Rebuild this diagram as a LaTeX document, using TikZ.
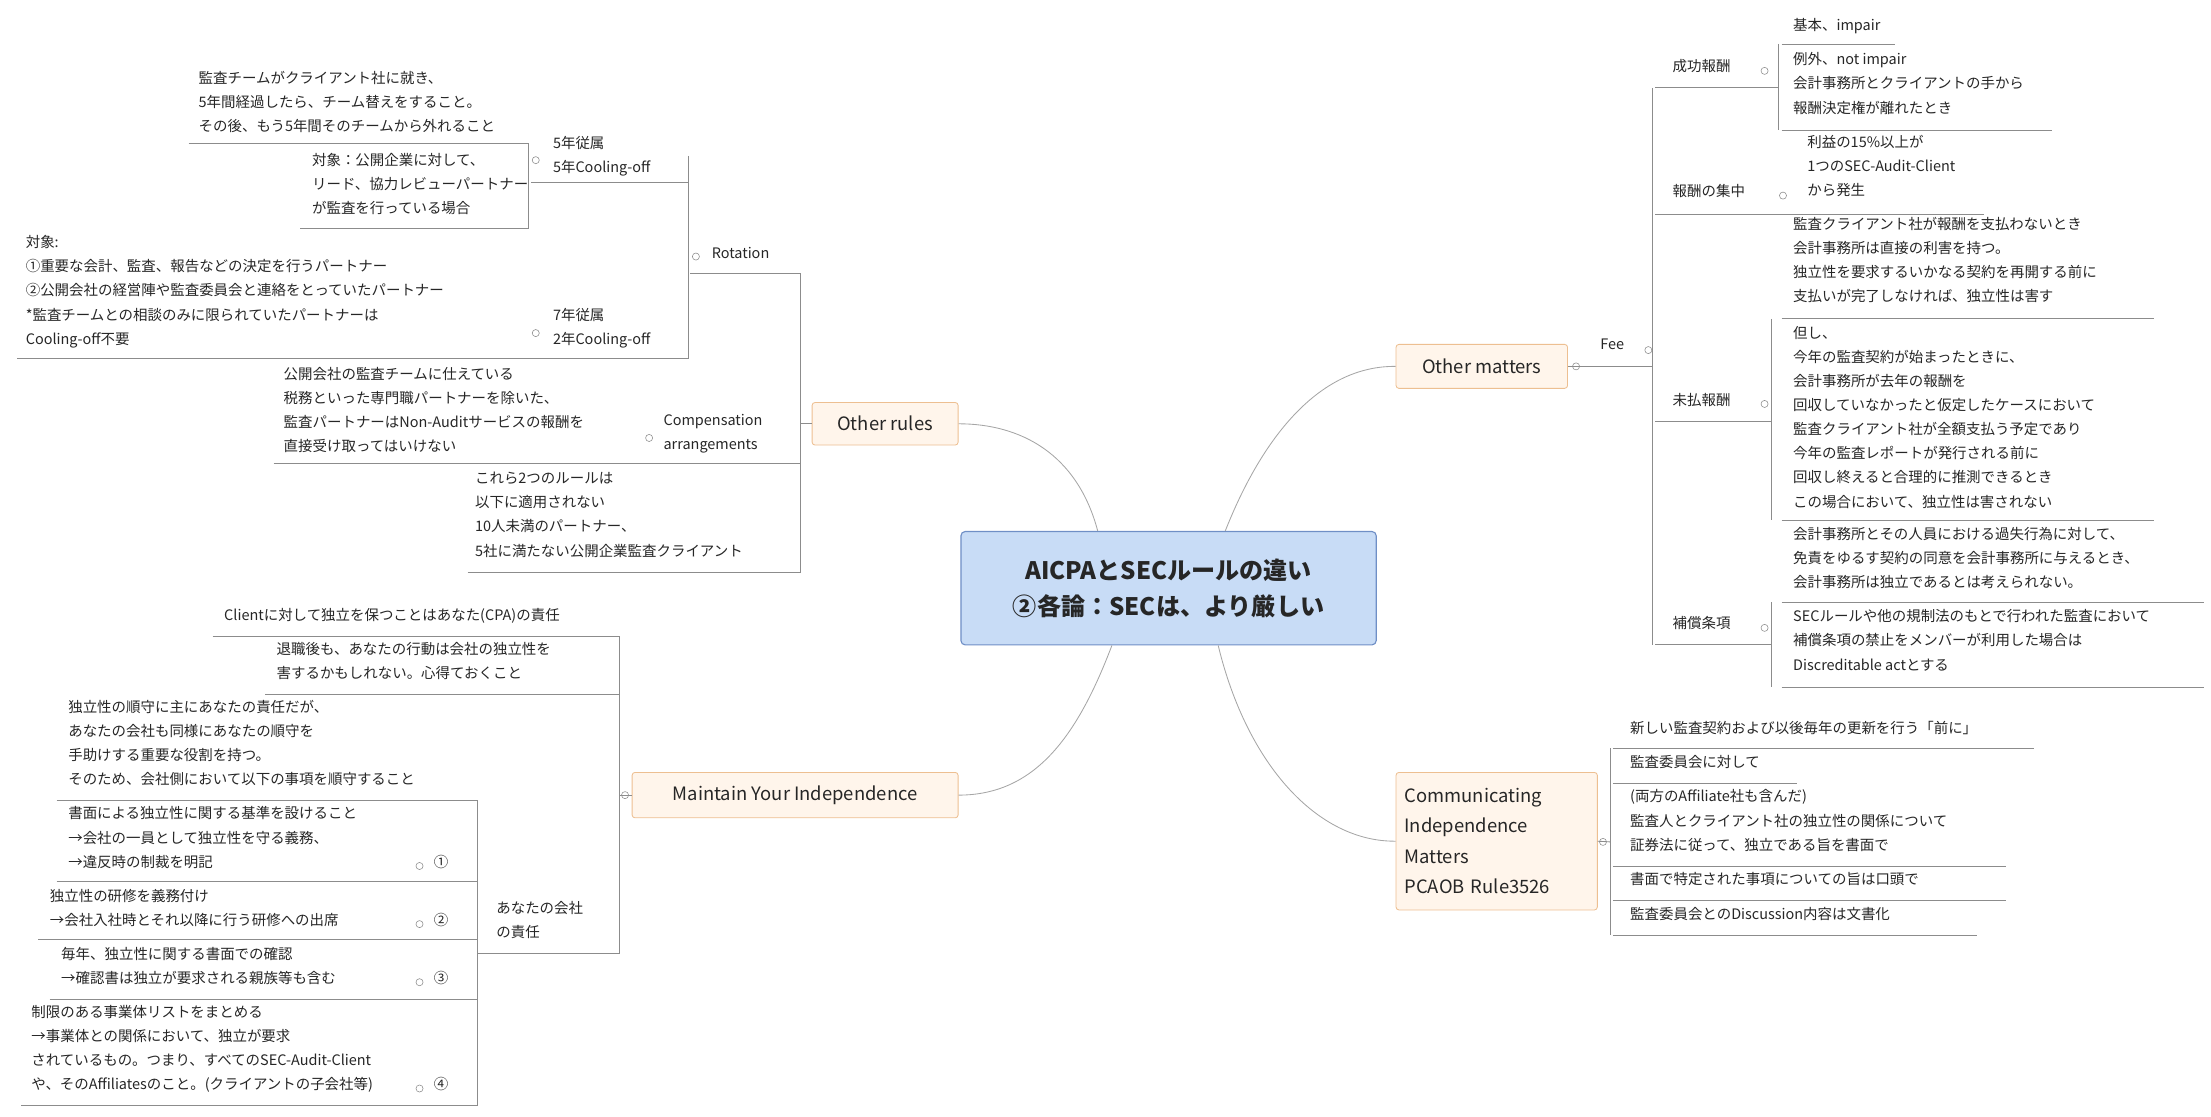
\documentclass[tikz,border=0pt]{standalone}
\usepackage{fontspec}
\setmainfont{Noto Sans CJK JP}
\definecolor{cfill}{HTML}{C8DCF6}
\definecolor{cdraw}{HTML}{6F8FC6}
\begin{document}
\begin{tikzpicture}[x=1pt,y=-1pt,
  txt/.style={anchor=north west,inner sep=0pt,align=left,font=\fontsize{10.2}{17}\selectfont,text=black!85},
  ln/.style={draw=black!45,line width=0.6pt},
  br/.style={draw=black!35,line width=0.6pt},
  main/.style={draw=orange!45!brown!50,fill=orange!8,rounded corners=2pt,line width=0.6pt,font=\fontsize{13}{21.5}\selectfont,inner sep=0pt,text=black!85,align=left},
  mk/.style={circle,draw=black!45,inner sep=0pt,minimum size=5pt,line width=0.4pt}]
\useasboundingbox (0,0) rectangle (1560,788);
% central
\node[draw=cdraw,fill=cfill,rounded corners=3pt,line width=0.8pt,minimum width=293pt,minimum height=80pt,font=\fontsize{17}{25}\selectfont\bfseries,align=center,text=black!85] (c) at (824.5,415) {AICPAとSECルールの違い\\②各論：SECは、より厳しい};
% main branches
\node[main,minimum width=103pt,minimum height=30pt] (or) at (624.5,299) {Other rules};
\node[main,minimum width=230pt,minimum height=32pt] (mi) at (561,561) {Maintain Your Independence};
\node[main,minimum width=121pt,minimum height=31pt] (om) at (1045.5,258.5) {Other matters};
\node[main,minimum width=142pt,minimum height=97pt,text width=130pt] (cm) at (1056,593.5) {Communicating\\Independence\\Matters\\PCAOB Rule3526};
\draw[br] (c.north) ++(-50,0) coordinate (c1) .. controls (760,320) and (720,299) .. (or.east);
\draw[br] (c.north) ++(40,0) coordinate (c2) .. controls (890,310) and (930,258) .. (om.west);
\draw[br] (c.south) ++(-40,0) coordinate (c3) .. controls (760,520) and (730,561) .. (mi.east);
\draw[br] (c.south) ++(35,0) coordinate (c4) .. controls (880,540) and (930,594) .. (cm.west);
% ===== Other rules
\draw[ln] (565,193) -- (565,404); \draw[ln] (565,299) -- (or.west);
\node[txt] (rot) at (502,174) {Rotation};
\draw[ln] (487,193) -- (565,193); \draw[ln] (486,110) -- (486,253);
\node[mk] at (491,181) {};
\node[txt] (r5) at (390,96) {5年従属\\5年Cooling-off};
\draw[ln] (375,129) -- (486,129); \draw[ln] (373,101) -- (373,161);
\node[mk] at (378,113) {};
\node[txt] (r5a) at (140,50) {監査チームがクライアント社に就き、\\5年間経過したら、チーム替えをすること。\\その後、もう5年間そのチームから外れること};
\draw[ln] (133,101) -- (373,101);
\node[txt] (r5b) at (220,108) {対象：公開企業に対して、\\リード、協力レビューパートナー\\が監査を行っている場合};
\draw[ln] (212,161) -- (373,161);
\node[txt] (r7) at (390,217) {7年従属\\2年Cooling-off};
\draw[ln] (12,253) -- (486,253);
\node[mk] at (378,235) {};
\node[txt] (r7a) at (18,166) {対象:\\①重要な会計、監査、報告などの決定を行うパートナー\\②公開会社の経営陣や監査委員会と連絡をとっていたパートナー\\*監査チームとの相談のみに限られていたパートナーは\\Cooling-off不要};
\node[txt] (ca) at (468,292) {Compensation\\arrangements};
\draw[ln] (193,327) -- (565,327);
\node[mk] at (458,309) {};
\node[txt] (caa) at (200,259) {公開会社の監査チームに仕えている\\税務といった専門職パートナーを除いた、\\監査パートナーはNon-Auditサービスの報酬を\\直接受け取ってはいけない};
\node[txt] (ex) at (335,333) {これら2つのルールは\\以下に適用されない\\10人未満のパートナー、\\5社に満たない公開企業監査クライアント};
\draw[ln] (330,404) -- (565,404);
% ===== Maintain
\draw[ln] (437,449) -- (437,673); \draw[ln] (437,561) -- (mi.west);
\node[mk] at (441,561) {};
\node[txt] (m1) at (158,429) {Clientに対して独立を保つことはあなた(CPA)の責任};
\draw[ln] (150,449) -- (437,449);
\node[txt] (m2) at (195,453) {退職後も、あなたの行動は会社の独立性を\\害するかもしれない。心得ておくこと};
\draw[ln] (187,490) -- (437,490);
\node[txt] (m3) at (350,636) {あなたの会社\\の責任};
\draw[ln] (337,673) -- (437,673); \draw[ln] (337,565) -- (337,780);
\node[txt] (m3a) at (48,494) {独立性の順守に主にあなたの責任だが、\\あなたの会社も同様にあなたの順守を\\手助けする重要な役割を持つ。\\そのため、会社側において以下の事項を順守すること};
\draw[ln] (40,565) -- (337,565);
\node[txt] (m3b) at (48,569) {書面による独立性に関する基準を設けること\\→会社の一員として独立性を守る義務、\\→違反時の制裁を明記};
\node[txt] at (306,603) {①}; \node[mk] at (296,611) {};
\draw[ln] (40,622) -- (337,622);
\node[txt] (m3c) at (35,627) {独立性の研修を義務付け\\→会社入社時とそれ以降に行う研修への出席};
\node[txt] at (306,644) {②}; \node[mk] at (296,652) {};
\draw[ln] (27,663) -- (337,663);
\node[txt] (m3d) at (43,668) {毎年、独立性に関する書面での確認\\→確認書は独立が要求される親族等も含む};
\node[txt] at (306,685) {③}; \node[mk] at (296,693) {};
\draw[ln] (35,705) -- (337,705);
\node[txt] (m3e) at (22,709) {制限のある事業体リストをまとめる\\→事業体との関係において、独立が要求\\されているもの。つまり、すべてのSEC-Audit-Client\\や、そのAffiliatesのこと。(クライアントの子会社等)};
\node[txt] at (306,760) {④}; \node[mk] at (296,768) {};
\draw[ln] (15,780) -- (337,780);
% ===== Other matters
\node[txt] (fee) at (1129,239) {Fee};
\draw[ln] (om.east) -- (1166,258.5); \node[mk] at (1112,258.5) {}; \node[mk] at (1163,247) {};
\draw[ln] (1166,62) -- (1166,455);
\node[txt] (f1) at (1180,42) {成功報酬};
\draw[ln] (1168,62) -- (1255,62); \draw[ln] (1255,31) -- (1255,92); \node[mk] at (1245,50) {};
\node[txt] (f1a) at (1265,13) {基本、impair};
\draw[ln] (1257,31) -- (1337,31);
\node[txt] (f1b) at (1265,37) {例外、not impair\\会計事務所とクライアントの手から\\報酬決定権が離れたとき};
\draw[ln] (1257,92) -- (1448,92);
\node[txt] (f2) at (1180,130) {報酬の集中};
\draw[ln] (1168,151) -- (1400,151); \node[mk] at (1258,138) {};
\node[txt] (f2a) at (1275,95) {利益の15\%以上が\\1つのSEC-Audit-Client\\から発生};
\node[txt] (f3) at (1180,277) {未払報酬};
\draw[ln] (1168,297) -- (1250,297); \draw[ln] (1250,225) -- (1250,367); \node[mk] at (1245,285) {};
\node[txt] (f3a) at (1265,153) {監査クライアント社が報酬を支払わないとき\\会計事務所は直接の利害を持つ。\\独立性を要求するいかなる契約を再開する前に\\支払いが完了しなければ、独立性は害す};
\draw[ln] (1257,225) -- (1520,225);
\node[txt] (f3b) at (1265,230) {但し、\\今年の監査契約が始まったときに、\\会計事務所が去年の報酬を\\回収していなかったと仮定したケースにおいて\\監査クライアント社が全額支払う予定であり\\今年の監査レポートが発行される前に\\回収し終えると合理的に推測できるとき\\この場合において、独立性は害されない};
\draw[ln] (1257,367) -- (1520,367);
\node[txt] (f4) at (1180,435) {補償条項};
\draw[ln] (1168,455) -- (1250,455); \draw[ln] (1250,425) -- (1250,485); \node[mk] at (1245,443) {};
\node[txt] (f4a) at (1265,372) {会計事務所とその人員における過失行為に対して、\\免責をゆるす契約の同意を会計事務所に与えるとき、\\会計事務所は独立であるとは考えられない。};
\draw[ln] (1257,425) -- (1555,425);
\node[txt] (f4b) at (1265,430) {SECルールや他の規制法のもとで行われた監査において\\補償条項の禁止をメンバーが利用した場合は\\Discreditable actとする};
\draw[ln] (1257,485) -- (1555,485);
% ===== Communicating
\draw[ln] (cm.east) -- (1136,594); \draw[ln] (1136,528) -- (1136,660); \node[mk] at (1131,594) {};
\node[txt] (k1) at (1150,509) {新しい監査契約および以後毎年の更新を行う「前に」};
\draw[ln] (1138,528) -- (1435,528);
\node[txt] (k2) at (1150,533) {監査委員会に対して};
\draw[ln] (1138,553) -- (1268,553);
\node[txt] (k3) at (1150,557) {(両方のAffiliate社も含んだ)\\監査人とクライアント社の独立性の関係について\\証券法に従って、独立である旨を書面で};
\draw[ln] (1138,611) -- (1415,611);
\node[txt] (k4) at (1150,615) {書面で特定された事項についての旨は口頭で};
\draw[ln] (1138,635) -- (1415,635);
\node[txt] (k5) at (1150,640) {監査委員会とのDiscussion内容は文書化};
\draw[ln] (1138,660) -- (1395,660);
\end{tikzpicture}
\end{document}
